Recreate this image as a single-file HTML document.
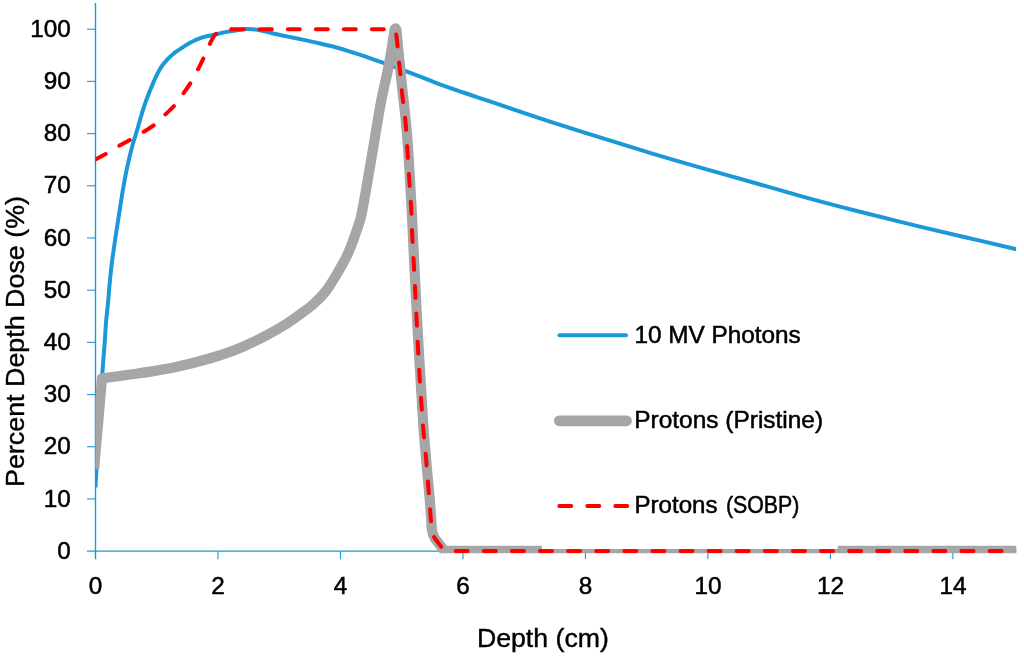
<!DOCTYPE html>
<html lang="en"><head><meta charset="utf-8"><title>Percent Depth Dose</title>
<style>
html,body{margin:0;padding:0;background:#fff;}
svg{display:block;}
text{font-family:"Liberation Sans",sans-serif;fill:#000;}
.tk{font-size:23.6px;stroke:#000;stroke-width:0.5px;}
.lg{font-size:23.6px;stroke:#000;stroke-width:0.5px;}
.ttl{font-size:26.7px;stroke:#000;stroke-width:0.4px;}
</style></head><body>
<svg width="1024" height="657" viewBox="0 0 1024 657">
<rect width="1024" height="657" fill="#fff"/>
<defs><clipPath id="plot"><rect x="95.5" y="0" width="920.7" height="553.2"/></clipPath></defs>

<g stroke="#1B98D7" stroke-width="1.1" fill="none">
<path d="M95.5 3V559.2" stroke-width="1.4"/>
<path d="M87 551.15H1016"/>
<path d="M87 498.95H95.5"/>
<path d="M87 446.76H95.5"/>
<path d="M87 394.56H95.5"/>
<path d="M87 342.37H95.5"/>
<path d="M87 290.17H95.5"/>
<path d="M87 237.98H95.5"/>
<path d="M87 185.78H95.5"/>
<path d="M87 133.59H95.5"/>
<path d="M87 81.39H95.5"/>
<path d="M87 29.20H95.5"/>
<path d="M217.98 551.15V559.2"/>
<path d="M340.46 551.15V559.2"/>
<path d="M462.94 551.15V559.2"/>
<path d="M585.42 551.15V559.2"/>
<path d="M707.90 551.15V559.2"/>
<path d="M830.38 551.15V559.2"/>
<path d="M952.86 551.15V559.2"/>
</g>
<text class="tk" transform="translate(70.8 558.8) scale(1.03 1)" text-anchor="end">0</text>
<text class="tk" transform="translate(70.8 506.6) scale(1.03 1)" text-anchor="end">10</text>
<text class="tk" transform="translate(70.8 454.4) scale(1.03 1)" text-anchor="end">20</text>
<text class="tk" transform="translate(70.8 402.2) scale(1.03 1)" text-anchor="end">30</text>
<text class="tk" transform="translate(70.8 350.0) scale(1.03 1)" text-anchor="end">40</text>
<text class="tk" transform="translate(70.8 297.8) scale(1.03 1)" text-anchor="end">50</text>
<text class="tk" transform="translate(70.8 245.6) scale(1.03 1)" text-anchor="end">60</text>
<text class="tk" transform="translate(70.8 193.4) scale(1.03 1)" text-anchor="end">70</text>
<text class="tk" transform="translate(70.8 141.2) scale(1.03 1)" text-anchor="end">80</text>
<text class="tk" transform="translate(70.8 89.0) scale(1.03 1)" text-anchor="end">90</text>
<text class="tk" transform="translate(70.8 36.8) scale(1.03 1)" text-anchor="end">100</text>
<text class="tk" transform="translate(95.5 593.7) scale(1.03 1)" text-anchor="middle">0</text>
<text class="tk" transform="translate(218.0 593.7) scale(1.03 1)" text-anchor="middle">2</text>
<text class="tk" transform="translate(340.5 593.7) scale(1.03 1)" text-anchor="middle">4</text>
<text class="tk" transform="translate(462.9 593.7) scale(1.03 1)" text-anchor="middle">6</text>
<text class="tk" transform="translate(585.4 593.7) scale(1.03 1)" text-anchor="middle">8</text>
<text class="tk" transform="translate(707.9 593.7) scale(1.03 1)" text-anchor="middle">10</text>
<text class="tk" transform="translate(830.4 593.7) scale(1.03 1)" text-anchor="middle">12</text>
<text class="tk" transform="translate(952.9 593.7) scale(1.03 1)" text-anchor="middle">14</text>
<g clip-path="url(#plot)" fill="none">
<path d="M95.4 487.5C95.6 484.6 95.8 480.4 96.4 470.0C97.0 459.6 97.9 441.7 98.9 425.0C99.9 408.3 101.7 383.2 102.6 370.0C103.5 356.8 103.9 353.6 104.5 345.7C105.1 337.8 105.4 330.4 106.0 322.8C106.6 315.2 107.8 305.7 108.3 300.0C108.8 294.3 108.7 294.2 109.2 288.5C109.7 282.8 110.6 273.3 111.5 265.7C112.4 258.1 113.9 248.8 114.7 242.8C115.5 236.9 115.9 234.6 116.6 230.0C117.3 225.4 118.1 220.4 118.9 215.2C119.7 209.9 120.5 204.6 121.5 198.5C122.5 192.4 123.7 185.0 124.9 178.7C126.1 172.3 127.4 166.0 128.7 160.4C130.0 154.8 131.1 150.3 132.5 145.2C133.9 140.0 135.9 134.3 137.3 129.5C138.7 124.7 139.8 120.7 141.0 116.5C142.2 112.3 143.5 108.1 144.8 104.3C146.1 100.6 147.5 96.9 148.6 94.0C149.7 91.1 150.3 89.8 151.5 87.0C152.7 84.2 154.0 80.9 155.6 77.5C157.2 74.1 159.3 69.8 161.3 66.8C163.3 63.8 165.3 61.6 167.4 59.3C169.5 57.0 171.8 55.1 174.1 53.2C176.4 51.4 179.0 49.8 181.4 48.2C183.8 46.6 186.3 44.9 188.7 43.5C191.1 42.1 193.6 40.8 196.0 39.8C198.4 38.8 200.9 37.9 203.3 37.2C205.7 36.5 207.8 36.1 210.6 35.5C213.4 34.9 217.3 34.0 220.0 33.4C222.7 32.8 223.6 32.4 226.5 31.9C229.4 31.4 233.6 30.7 237.2 30.2C240.8 29.7 244.7 29.2 247.8 29.1C250.9 29.0 253.0 29.3 255.6 29.6C258.2 29.9 260.8 30.5 263.4 31.1C266.0 31.7 267.3 32.1 271.2 33.0C275.2 33.9 281.7 35.3 286.9 36.4C292.1 37.5 297.3 38.5 302.5 39.6C307.7 40.7 312.9 41.8 318.1 43.0C323.3 44.2 328.5 45.4 333.8 46.8C339.0 48.2 344.2 49.7 349.4 51.3C354.6 52.9 359.8 54.6 365.0 56.4C370.2 58.2 372.7 59.0 380.6 61.9C388.5 64.8 402.9 70.1 412.4 73.7C421.9 77.3 429.4 80.5 437.8 83.6C446.2 86.7 454.7 89.6 463.1 92.5C471.6 95.4 479.0 97.7 488.5 100.9C498.0 104.1 509.6 108.1 520.0 111.6C530.4 115.1 537.2 117.5 550.8 121.9C564.4 126.3 584.7 132.6 601.6 137.9C618.5 143.2 635.5 148.5 652.4 153.6C669.3 158.7 686.0 163.5 703.1 168.4C720.2 173.3 738.3 178.3 755.0 183.0C771.7 187.7 786.5 192.1 803.5 196.8C820.5 201.5 839.1 206.4 857.0 211.0C874.9 215.6 892.8 220.1 910.6 224.4C928.5 228.7 946.5 232.9 964.1 237.0C981.8 241.1 1007.8 247.2 1016.5 249.2" stroke="#1B98D7" stroke-width="4" stroke-linejoin="round"/>
<path d="M94.1 469.0L102.0 378.2C102.8 378.1 102.0 378.3 106.7 377.7C111.4 377.1 122.4 375.6 130.2 374.5C138.0 373.4 145.8 372.4 153.6 371.1C161.4 369.8 169.2 368.5 177.0 366.8C184.8 365.1 193.1 363.0 200.5 361.0C207.9 359.0 215.2 356.9 221.2 354.9C227.3 352.9 231.7 351.3 236.9 349.2C242.1 347.1 247.3 344.8 252.5 342.3C257.7 339.8 262.9 337.2 268.1 334.4C273.3 331.6 278.5 328.8 283.8 325.5C289.0 322.2 294.5 318.3 299.4 314.8C304.3 311.3 308.6 308.4 313.0 304.5C317.4 300.6 321.5 296.7 325.6 291.5C329.7 286.3 333.8 279.2 337.4 273.1C341.0 267.0 344.5 260.9 347.4 254.8C350.3 248.7 352.4 242.6 354.6 236.5C356.8 230.4 359.0 224.4 360.6 218.3C362.2 212.2 363.3 204.7 364.2 200.0C365.1 195.3 364.9 196.5 366.0 190.0C367.1 183.5 369.3 170.6 371.0 160.8C372.7 151.0 374.3 141.0 376.0 131.0C377.7 121.0 379.0 112.2 381.2 101.0C383.4 89.8 386.9 75.6 389.1 63.7C391.3 51.8 393.7 35.3 394.6 29.6L395.5 28.4L396.4 29.8C396.9 35.5 398.7 53.7 399.7 63.7C400.7 73.7 401.5 81.5 402.4 90.0C403.3 98.5 404.2 105.0 405.2 115.0C406.2 125.0 407.2 135.3 408.2 150.3C409.2 165.3 409.9 177.1 411.4 205.0C412.9 232.9 415.0 281.3 417.0 318.0C419.0 354.7 421.2 394.7 423.3 425.0C425.4 455.3 428.4 482.8 429.8 500.0C431.2 517.2 431.4 523.3 431.7 528.0Q432.3 534 434.8 538.3L444.5 550.8L1018.0 550.8" stroke="#A6A6A6" stroke-width="10.2" stroke-linejoin="round"/>
</g>
<rect x="541.8" y="300" width="296" height="249" fill="#fff"/>
<g clip-path="url(#plot)" fill="none" stroke="#FF0000" stroke-width="4" stroke-linecap="round" stroke-dasharray="12 16">
<path d="M95.0 159.6C97.0 158.6 102.8 155.8 107.0 153.4C111.2 151.0 116.0 147.6 120.0 145.3C124.0 143.0 126.8 141.7 130.7 139.5C134.6 137.3 139.5 134.3 143.4 131.9C147.3 129.5 150.4 127.9 154.1 125.0C157.8 122.1 161.9 117.8 165.4 114.4C168.9 111.0 171.9 108.4 175.0 104.8C178.1 101.2 181.2 96.4 183.9 92.7C186.6 89.0 188.5 86.4 190.9 82.4C193.3 78.4 196.2 72.8 198.4 68.6C200.6 64.3 202.1 61.2 204.1 56.9C206.1 52.6 208.8 46.3 210.3 43.0C211.8 39.7 212.1 39.0 213.2 37.3C214.3 35.6 215.4 34.2 217.1 33.0C218.8 31.8 221.1 30.8 223.5 30.2C225.9 29.6 230.4 29.4 231.8 29.2"/>
<path d="M231.8 29.2L394.6 29.2" stroke-dashoffset="0"/>
<path d="M395.6 29.2C395.7 30.0 395.9 31.3 396.2 34.0C396.5 36.7 397.1 41.0 397.5 45.5C397.9 50.0 398.4 55.9 398.9 60.7C399.4 65.5 399.9 69.7 400.4 74.4C400.8 79.1 401.1 84.1 401.6 88.8C402.1 93.5 402.5 97.1 403.2 102.8C403.9 108.5 404.9 115.0 405.6 122.9C406.3 130.8 406.8 140.9 407.4 150.3C408.0 159.8 408.7 170.2 409.3 179.6C409.9 189.0 410.6 197.5 411.1 207.0C411.6 216.5 411.9 227.1 412.3 236.6C412.8 246.1 413.3 254.9 413.8 264.0C414.3 273.1 414.8 282.6 415.2 291.4C415.6 300.2 416.1 307.8 416.5 317.0C416.9 326.2 417.4 336.5 417.9 346.6C418.4 356.7 419.1 367.9 419.7 377.6C420.3 387.3 420.9 396.8 421.5 405.0C422.1 413.2 422.3 417.6 423.1 427.0C423.9 436.4 425.4 450.5 426.3 461.5C427.2 472.5 428.1 483.8 428.8 493.2C429.5 502.6 430.2 511.8 430.7 517.6C431.2 523.4 431.5 526.3 431.7 528.0Q432.3 534 434.8 538.3L444.5 551.1" stroke-dashoffset="-5.4"/>
<path d="M444.5 551.1H1022" stroke-dasharray="12 16.1" stroke-dashoffset="16.9"/>
</g>
<path d="M559.5 335.25H626" stroke="#1B98D7" stroke-width="4" stroke-linecap="round"/>
<path d="M559.3 420.8H626.5" stroke="#A6A6A6" stroke-width="10.7" stroke-linecap="round"/>
<path d="M559.3 506H628" stroke="#FF0000" stroke-width="4" stroke-linecap="round" stroke-dasharray="12 16" fill="none"/>
<text class="lg" x="634.4" y="342.6" textLength="166.4" lengthAdjust="spacingAndGlyphs">10 MV Photons</text>
<text class="lg" x="634.3" y="428.2" textLength="188.8" lengthAdjust="spacingAndGlyphs">Protons (Pristine)</text>
<text class="lg" y="513.2"><tspan x="634.5" textLength="83" lengthAdjust="spacingAndGlyphs">Protons</tspan><tspan> </tspan><tspan x="725.9" textLength="73.5" lengthAdjust="spacingAndGlyphs">(SOBP)</tspan></text>
<text class="ttl" x="542.9" y="647.1" text-anchor="middle">Depth (cm)</text>
<text class="ttl" transform="translate(24.4 341.5) rotate(-90) scale(1.0065 1)" text-anchor="middle">Percent Depth Dose (%)</text>
</svg></body></html>
